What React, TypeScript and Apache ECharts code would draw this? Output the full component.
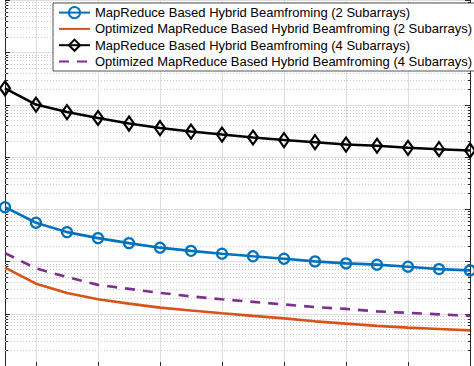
import React, { useEffect, useRef } from 'react';
import * as echarts from 'echarts';

const categories = ['1', '2', '3', '4', '5', '6', '7', '8', '9', '10', '11', '12', '13', '14', '15', '16'];
const seriesNames = [
  'MapReduce Based Hybrid Beamfroming (2 Subarrays)',
  'Optimized MapReduce Based Hybrid Beamfroming (2 Subarrays)',
  'MapReduce Based Hybrid Beamfroming (4 Subarrays)',
  'Optimized MapReduce Based Hybrid Beamfroming (4 Subarrays)',
];
const mapReduce2 = [1096, 552, 365, 280, 225, 184, 160, 141, 126, 113, 100.5, 92, 87, 79.6, 71.6, 67.6];
const optimized2 = [76.1, 37.6, 24.9, 18.9, 15.6, 13.1, 11.5, 10.2, 9.12, 8.17, 7.16, 6.47, 5.87, 5.42, 5.1, 4.81];
const mapReduce4 = [206600, 100900, 72500, 55700, 43700, 35800, 30700, 26900, 23600, 21100, 19200, 17300, 16400, 15000, 14100, 13300];
const optimized4 = [145, 73.8, 50.3, 35.7, 29.9, 25.1, 21.5, 18.9, 16.9, 15.1, 13.4, 12.4, 11.1, 10.4, 9.74, 9.12];
const decades = [1, 10, 100, 1000, 10000, 100000, 1000000, 10000000];
const minorMultipliers = [2, 3, 4, 5, 6, 7, 8, 9];

const minorValues: number[] = [];
decades.forEach((d) => minorMultipliers.forEach((m) => minorValues.push(m * d)));

const AXIS = '#262626';
const MAJOR_GRID = '#dedede';
const MINOR_GRID = '#cacaca';

export default function App() {
  const ref = useRef<HTMLDivElement>(null);
  useEffect(() => {
    if (!ref.current) return;
    const chart = echarts.init(ref.current, undefined, { renderer: 'svg' });
    const oddIdx = (i: number) => i % 2 === 1;
    const logAxis = (extra: any) => ({
      type: 'log',
      logBase: 10,
      min: 1,
      max: 1e8,
      axisLabel: { show: false },
      ...extra,
    });
    const noSymbol = { color: 'transparent', borderColor: 'transparent', borderWidth: 0 };
    chart.setOption({
      animation: false,
      backgroundColor: '#fff',
      grid: { left: 5, right: 4, top: 8, bottom: 0, containLabel: false },
      xAxis: {
        type: 'category',
        data: categories,
        boundaryGap: false,
        axisLine: { show: true, lineStyle: { color: AXIS, width: 1 } },
        axisTick: { show: true, inside: true, length: 4, interval: oddIdx, lineStyle: { color: AXIS } },
        axisLabel: { show: false },
        splitLine: { show: true, interval: oddIdx, lineStyle: { color: MAJOR_GRID, width: 1 } },
      },
      yAxis: [
        logAxis({
          position: 'left',
          axisLine: { show: true, lineStyle: { color: AXIS, width: 1 } },
          axisTick: { show: true, inside: true, length: 5, lineStyle: { color: AXIS } },
          splitLine: { show: true, lineStyle: { color: MAJOR_GRID, width: 1 } },
        }),
        logAxis({
          position: 'right',
          axisLine: { show: true, lineStyle: { color: AXIS, width: 1 } },
          axisTick: { show: true, inside: true, length: 5, lineStyle: { color: AXIS } },
          splitLine: { show: false },
        }),
        logAxis({
          position: 'left',
          axisLine: { show: false },
          axisTick: { show: true, inside: true, length: 3, customValues: minorValues, lineStyle: { color: AXIS } },
          splitLine: { show: false },
        }),
        logAxis({
          position: 'right',
          axisLine: { show: false },
          axisTick: { show: true, inside: true, length: 3, customValues: minorValues, lineStyle: { color: AXIS } },
          splitLine: { show: false },
        }),
      ],
      legend: {
        data: [
          { name: seriesNames[0] },
          { name: seriesNames[1], itemStyle: noSymbol },
          { name: seriesNames[2] },
          { name: seriesNames[3], itemStyle: noSymbol },
        ],
        orient: 'vertical',
        left: 53,
        top: 63,
        padding: [3, 4, 3, 5],
        itemWidth: 31,
        itemHeight: 14,
        itemGap: 3.2,
        backgroundColor: '#fff',
        borderColor: AXIS,
        borderWidth: 0.8,
        borderRadius: 0,
        z: 20,
        textStyle: { fontFamily: 'Liberation Sans', fontSize: 13, color: '#000' },
      },
      series: [
        {
          name: 'grid-minor',
          type: 'line',
          data: [],
          z: 0,
          silent: true,
          markLine: {
            silent: true,
            z: 1,
            zlevel: 0,
            symbol: ['none', 'none'],
            label: { show: false },
            emphasis: { disabled: true },
            lineStyle: { color: MINOR_GRID, type: [1, 2], width: 1 },
            data: minorValues.map((v) => ({ yAxis: v })),
          },
        },
        {
          name: seriesNames[0],
          type: 'line',
          data: mapReduce2,
          z: 10,
          symbol: 'circle',
          symbolSize: 10,
          itemStyle: { color: 'transparent', borderColor: '#0072BD', borderWidth: 2.2 },
          lineStyle: { color: '#0072BD', width: 2.6 },
        },
        {
          name: seriesNames[1],
          type: 'line',
          data: optimized2,
          z: 10,
          showSymbol: false,
          symbol: 'none',
          itemStyle: { color: '#D95319' },
          lineStyle: { color: '#D95319', width: 2.6 },
        },
        {
          name: seriesNames[2],
          type: 'line',
          data: mapReduce4,
          z: 10,
          symbol: 'diamond',
          symbolSize: [10, 14],
          itemStyle: { color: 'transparent', borderColor: '#000', borderWidth: 2.2 },
          lineStyle: { color: '#000', width: 2.6 },
        },
        {
          name: seriesNames[3],
          type: 'line',
          data: optimized4,
          z: 10,
          showSymbol: false,
          symbol: 'none',
          itemStyle: { color: '#7E2F8E' },
          lineStyle: { color: '#7E2F8E', width: 2.6, type: [10, 8] },
        },
      ],
    });
    return () => chart.dispose();
  }, []);
  return (
    <div
      ref={ref}
      style={{ position: 'absolute', left: 0, top: -60, width: 474, height: 426 }}
    />
  );
}
